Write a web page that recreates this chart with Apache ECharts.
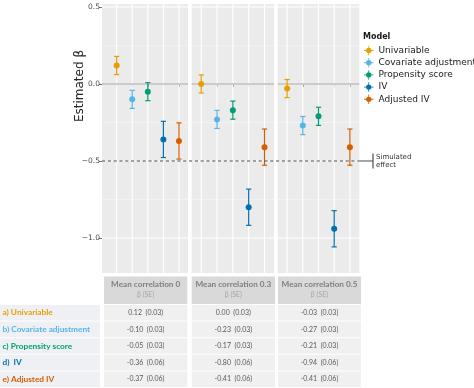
<!DOCTYPE html>
<html><head><meta charset="utf-8">
<script src="https://cdn.jsdelivr.net/npm/echarts@6/dist/echarts.min.js"></script>
<style>html,body{margin:0;padding:0;background:#fff}#c{width:474px;height:388px}</style>
</head><body><div id="c"></div>
<script>
// ---------- data ----------
const models = ['Univariable', 'Covariate adjustment', 'Propensity score', 'IV', 'Adjusted IV'];
const rowLabels = ['a) Univariable', 'b) Covariate adjustment', 'c) Propensity score', 'd)  IV', 'e) Adjusted IV'];
const panelTitles = ['Mean correlation 0', 'Mean correlation 0.3', 'Mean correlation 0.5'];
const headerSub = 'β (SE)';
const categoryPos = [1, 2, 3, 4, 5];
const betaCorr0 = [0.12, -0.10, -0.05, -0.36, -0.37];
const seCorr0 = [0.03, 0.03, 0.03, 0.06, 0.06];
const betaCorr03 = [0.00, -0.23, -0.17, -0.80, -0.41];
const seCorr03 = [0.03, 0.03, 0.03, 0.06, 0.06];
const betaCorr05 = [-0.03, -0.27, -0.21, -0.94, -0.41];
const seCorr05 = [0.03, 0.03, 0.03, 0.06, 0.06];
const yTicks = [0.5, 0.0, -0.5, -1.0];
const yMinor = [0.25, -0.25, -0.75];
const zeroLine = 0;
const simulatedEffect = -0.5;
const yAxisTitle = 'Estimated β';
const legendTitle = 'Model';
const simLabel = ['Simulated', 'effect'];

// ---------- styles / layout ----------
const colors = ['#E69F00', '#56B4E9', '#009E73', '#0072B2', '#D55E00'];
const PANEL_LEFT = [102, 191.7, 277.7];
const PANEL_W = [86, 82.3, 81.6];
const PANEL_TOP = 4, PANEL_H = 269;
const X_RANGE = [[0.06, 5.58], [0.4, 5.6], [0.4, 5.6]];
const Y_RANGE = [-1.227, 0.519];
const COL_LEFT = [104, 191.7, 278];
const COL_RIGHT = [187.3, 275, 361];
const HEAD_TOP = 276.5, HEAD_H = 27.5;
const ROW_TOP = 305, ROW_H = 16.6;
const ICON = 'path://M0,4.55H10V5.45H0Z M4.55,0H5.45V10H4.55Z M2.2,5A2.8,2.8 0 1 1 7.8,5A2.8,2.8 0 1 1 2.2,5Z';

const betas = [betaCorr0, betaCorr03, betaCorr05];
const ses = [seCorr0, seCorr03, seCorr05];

const chart = echarts.init(document.getElementById('c'), null, {renderer: 'canvas'});

const grids = [], xAxes = [], yAxes = [], series = [];
for (let p = 0; p < 3; p++) {
  grids.push({left: PANEL_LEFT[p], top: PANEL_TOP, width: PANEL_W[p], height: PANEL_H,
    show: true, backgroundColor: '#EBEBEB', borderWidth: 0, containLabel: false});
  xAxes.push({type: 'value', gridIndex: p, min: X_RANGE[p][0], max: X_RANGE[p][1],
    axisLine: {show: false}, splitLine: {show: false},
    axisTick: {show: true, length: 3, customValues: categoryPos, lineStyle: {color: '#4D4D4D', width: 0.8}},
    axisLabel: {show: false}});
  yAxes.push({type: 'value', gridIndex: p, min: Y_RANGE[0], max: Y_RANGE[1],
    axisLine: {show: false}, splitLine: {show: false},
    axisTick: {show: p === 0, length: 3, customValues: yTicks, lineStyle: {color: '#4D4D4D', width: 0.8}},
    axisLabel: {show: p === 0, customValues: yTicks, color: '#4D4D4D', fontSize: 7.5, margin: 2,
      fontFamily: 'DejaVu Sans',
      formatter: v => (Math.round(v * 10) / 10).toFixed(1).replace('-', '\u2212')}});
  // panel guides
  series.push({type: 'custom', xAxisIndex: p, yAxisIndex: p, silent: true, z: 1,
    data: [[0]], encode: {x: 0},
    renderItem: (params, api) => {
      const cs = params.coordSys;
      const ch = [];
      yMinor.forEach(v => { const y = api.coord([X_RANGE[p][0], v])[1];
        ch.push({type: 'line', shape: {x1: cs.x, y1: y, x2: cs.x + cs.width, y2: y}, style: {stroke: '#F7F7F7', lineWidth: 0.6}}); });
      yTicks.forEach(v => { const y = api.coord([X_RANGE[p][0], v])[1];
        ch.push({type: 'line', shape: {x1: cs.x, y1: y, x2: cs.x + cs.width, y2: y}, style: {stroke: '#FFFFFF', lineWidth: 1.1}}); });
      categoryPos.forEach(v => { const x = api.coord([v, 0])[0];
        ch.push({type: 'line', shape: {x1: x, y1: cs.y, x2: x, y2: cs.y + cs.height}, style: {stroke: '#FFFFFF', lineWidth: 1.1}}); });
      const yz = api.coord([X_RANGE[p][0], zeroLine])[1];
      ch.push({type: 'line', shape: {x1: cs.x, y1: yz, x2: cs.x + cs.width, y2: yz}, style: {stroke: '#BDBDBD', lineWidth: 1.4}});
      return {type: 'group', children: ch};
    }});
}

function renderBar(params, api) {
  const x = api.value(0), b = api.value(1), lo = api.value(2), hi = api.value(3);
  const p = api.coord([x, b]), pl = api.coord([x, lo]), ph = api.coord([x, hi]);
  const col = api.visual('color');
  const cw = 2.6, lw = 1.2;
  return {type: 'group', children: [
    {type: 'line', shape: {x1: p[0], y1: pl[1], x2: p[0], y2: ph[1]}, style: {stroke: col, lineWidth: lw}},
    {type: 'line', shape: {x1: p[0] - cw, y1: pl[1], x2: p[0] + cw, y2: pl[1]}, style: {stroke: col, lineWidth: lw}},
    {type: 'line', shape: {x1: p[0] - cw, y1: ph[1], x2: p[0] + cw, y2: ph[1]}, style: {stroke: col, lineWidth: lw}},
    {type: 'circle', shape: {cx: p[0], cy: p[1], r: 3}, style: {fill: col}}
  ]};
}

for (let m = 0; m < models.length; m++) {
  for (let p = 0; p < 3; p++) {
    const b = betas[p][m], s = ses[p][m];
    series.push({type: 'custom', name: models[m], xAxisIndex: p, yAxisIndex: p, z: 3,
      itemStyle: {color: colors[m]},
      encode: {x: 0, y: [1, 2, 3]},
      data: [[categoryPos[m], b, b - 1.96 * s, b + 1.96 * s]],
      renderItem: renderBar});
  }
}

chart.setOption({
  animation: false,
  backgroundColor: '#FFFFFF',
  grid: grids, xAxis: xAxes, yAxis: yAxes, series: series,
  legend: {orient: 'vertical', left: 364, top: 45.5, itemWidth: 9.5, itemHeight: 9.5, itemGap: 2.2,
    padding: 0, selectedMode: false,
    textStyle: {fontSize: 9, fontFamily: 'DejaVu Sans', color: '#1A1A1A', lineHeight: 10},
    data: models.map(n => ({name: n, icon: ICON}))}
});

// ---------- annotations & table ----------
const ySim = chart.convertToPixel({xAxisIndex: 0, yAxisIndex: 0}, [1, simulatedEffect])[1];
const dashEnd = PANEL_LEFT[2] + PANEL_W[2] - 1;
const g = [];
g.push({type: 'line', silent: true, z: 10, shape: {x1: PANEL_LEFT[0], y1: ySim, x2: dashEnd, y2: ySim},
  style: {stroke: '#4D4D4D', lineWidth: 1, lineDash: [3.2, 2.6]}});
g.push({type: 'line', silent: true, z: 10, shape: {x1: dashEnd, y1: ySim, x2: 373, y2: ySim},
  style: {stroke: '#4D4D4D', lineWidth: 1}});
g.push({type: 'line', silent: true, z: 10, shape: {x1: 373, y1: ySim - 7.5, x2: 373, y2: ySim + 7.5},
  style: {stroke: '#4D4D4D', lineWidth: 1.2}});
simLabel.forEach((t, i) => g.push({type: 'text', silent: true, z: 10, x: 376, y: ySim - 3.5 + i * 8,
  style: {text: t, fontSize: 7, fontFamily: 'DejaVu Sans', fill: '#333333', verticalAlign: 'middle'}}));
// axis title
g.push({type: 'text', silent: true, x: 80, y: 86, rotation: Math.PI / 2,
  style: {text: yAxisTitle, fontSize: 12, fontFamily: 'DejaVu Sans', fill: '#262626', align: 'center', verticalAlign: 'middle'}});
// legend title
g.push({type: 'text', silent: true, x: 363, y: 37,
  style: {text: legendTitle, fontSize: 8, fontWeight: 'bold', fontFamily: 'DejaVu Sans', fill: '#1A1A1A', verticalAlign: 'middle'}});
// table header
for (let p = 0; p < 3; p++) {
  const cx = (COL_LEFT[p] + COL_RIGHT[p]) / 2;
  g.push({type: 'rect', silent: true, shape: {x: COL_LEFT[p], y: HEAD_TOP, width: COL_RIGHT[p] - COL_LEFT[p], height: HEAD_H},
    style: {fill: '#D9D9D9'}});
  g.push({type: 'text', silent: true, x: cx, y: HEAD_TOP + 7.5,
    style: {text: panelTitles[p], fontSize: 8.2, fontWeight: 'bold', fontFamily: 'Lato', fill: '#7F7F7F', align: 'center', verticalAlign: 'middle'}});
  g.push({type: 'text', silent: true, x: cx, y: HEAD_TOP + 18,
    style: {text: headerSub, fontSize: 7, fontFamily: 'Lato', fill: '#A6A6A6', align: 'center', verticalAlign: 'middle'}});
}
// table rows
for (let m = 0; m < models.length; m++) {
  const top = ROW_TOP + m * ROW_H;
  const cy = top + ROW_H / 2 - 0.6;
  g.push({type: 'rect', silent: true, shape: {x: 0, y: top, width: 100, height: ROW_H - 1}, style: {fill: '#EEF0F4'}});
  g.push({type: 'text', silent: true, x: 2.5, y: cy,
    style: {text: rowLabels[m], fontSize: 8.3, fontWeight: 'bold', fontFamily: 'Lato', fill: colors[m], verticalAlign: 'middle'}});
  for (let p = 0; p < 3; p++) {
    g.push({type: 'rect', silent: true, shape: {x: COL_LEFT[p], y: top, width: COL_RIGHT[p] - COL_LEFT[p], height: ROW_H - 1},
      style: {fill: '#F0F0F0'}});
    g.push({type: 'text', silent: true, x: (COL_LEFT[p] + COL_RIGHT[p]) / 2, y: cy,
      style: {text: betas[p][m].toFixed(2) + '  (' + ses[p][m].toFixed(2) + ')', fontSize: 7, fontFamily: 'Lato',
        fill: '#595959', align: 'center', verticalAlign: 'middle'}});
  }
}
chart.setOption({graphic: g});
</script>
</body></html>
